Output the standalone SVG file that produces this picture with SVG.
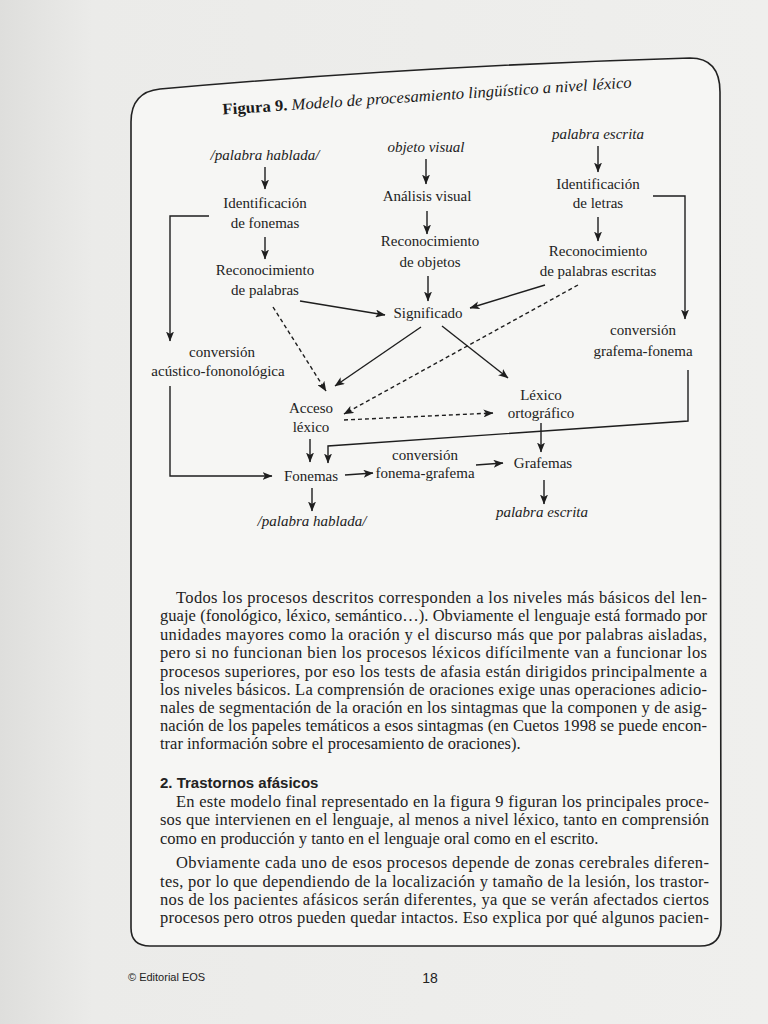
<svg xmlns="http://www.w3.org/2000/svg" width="768" height="1024" viewBox="0 0 768 1024">
<defs>
<marker id="ah" viewBox="0 0 10 8" refX="9.5" refY="4" markerWidth="10" markerHeight="8" markerUnits="userSpaceOnUse" orient="auto">
<path d="M0,0 L10,4 L0,8 L2.5,4 z" fill="#1e1e1e"/>
</marker>
<linearGradient id="bg" x1="0" y1="0" x2="1" y2="0">
<stop offset="0" stop-color="#dededc"/>
<stop offset="0.12" stop-color="#ebebe9"/>
<stop offset="1" stop-color="#efefed"/>
</linearGradient>
</defs>
<style>
.n{font-family:"Liberation Serif","Times New Roman",serif;font-size:15px;fill:#222;text-anchor:middle}
.i{font-style:italic}
.b{font-family:"Liberation Serif","Times New Roman",serif;font-size:16.5px;fill:#222}
.c{stroke:#1e1e1e;stroke-width:1.4;fill:none}
.a{marker-end:url(#ah)}
.d{stroke-dasharray:4 3}
</style>
<rect width="768" height="1024" fill="url(#bg)"/>
<g id="frame">
<path d="M131,122 Q131,92 160,89 Q420,66 690,58 Q720,58 720,92 L721,925 Q721,946 700,946 L150,946 Q131,946 131,928 Z" fill="#f6f6f4" stroke="#222" stroke-width="1.6"/>
</g>
<g id="title">
<text transform="rotate(-3.8 427 95)" x="222" y="101" textLength="410" lengthAdjust="spacingAndGlyphs" style="font-family:'Liberation Serif','Times New Roman',serif;font-size:16px;fill:#1a1a1a"><tspan font-weight="bold">Figura 9.</tspan><tspan font-style="italic"> Modelo de procesamiento lingüístico a nivel léxico</tspan></text>
</g>
<g id="connectors">
<line class="c a" x1="265" y1="167" x2="265" y2="189"/>
<line class="c a" x1="265" y1="237" x2="265" y2="259"/>
<line class="c a" x1="426" y1="159" x2="426" y2="184"/>
<line class="c a" x1="427" y1="211" x2="427" y2="234"/>
<line class="c a" x1="428" y1="276" x2="428" y2="301"/>
<line class="c a" x1="598" y1="146" x2="598" y2="172"/>
<line class="c a" x1="598" y1="217" x2="598" y2="241"/>
<polyline class="c a" points="209,216 170,216 170,341"/>
<polyline class="c a" points="170,386 170,476 272,476"/>
<polyline class="c a" points="653,196 685,196 685,319"/>
<polyline class="c a" points="688,370 688,421 328,446 328,463"/>
<line class="c a" x1="310" y1="439" x2="310" y2="462"/>
<line class="c a" x1="312" y1="488" x2="312" y2="511"/>
<line class="c a" x1="345" y1="475" x2="373" y2="473"/>
<line class="c a" x1="476" y1="465" x2="503" y2="463"/>
<line class="c a" x1="541" y1="423" x2="541" y2="452"/>
<line class="c a" x1="544" y1="480" x2="544" y2="504"/>
<line class="c a" x1="300" y1="301" x2="385" y2="315"/>
<line class="c a d" x1="273" y1="307" x2="326" y2="391"/>
<line class="c a" x1="421" y1="327" x2="335" y2="386"/>
<line class="c a" x1="442" y1="326" x2="508" y2="378"/>
<line class="c a" x1="545" y1="285" x2="470" y2="308"/>
<line class="c a d" x1="578" y1="285" x2="344" y2="414"/>
<line class="c a d" x1="344" y1="420" x2="493" y2="413"/>
</g>
<g id="palabra-hablada-in"><text class="n i" x="265" y="160">/palabra hablada/</text></g>
<g id="identificacion-fonemas"><text class="n" x="265" y="208">Identificación</text><text class="n" x="265" y="228">de fonemas</text></g>
<g id="reconocimiento-palabras"><text class="n" x="265" y="275">Reconocimiento</text><text class="n" x="265" y="295">de palabras</text></g>
<g id="objeto-visual"><text class="n i" x="426" y="152">objeto visual</text></g>
<g id="analisis-visual"><text class="n" x="427" y="201">Análisis visual</text></g>
<g id="reconocimiento-objetos"><text class="n" x="430" y="246">Reconocimiento</text><text class="n" x="430" y="267">de objetos</text></g>
<g id="significado"><text class="n" x="428" y="318">Significado</text></g>
<g id="palabra-escrita-in"><text class="n i" x="598" y="139">palabra escrita</text></g>
<g id="identificacion-letras"><text class="n" x="598" y="189">Identificación</text><text class="n" x="598" y="208">de letras</text></g>
<g id="reconocimiento-escritas"><text class="n" x="598" y="256">Reconocimiento</text><text class="n" x="598" y="276">de palabras escritas</text></g>
<g id="conversion-acustico"><text class="n" x="222" y="357">conversión</text><text class="n" x="218" y="376">acústico-fononológica</text></g>
<g id="conversion-grafema-fonema"><text class="n" x="643" y="335">conversión</text><text class="n" x="643" y="356">grafema-fonema</text></g>
<g id="acceso-lexico"><text class="n" x="311" y="413">Acceso</text><text class="n" x="311" y="432">léxico</text></g>
<g id="lexico-ortografico"><text class="n" x="541" y="400">Léxico</text><text class="n" x="541" y="418">ortográfico</text></g>
<g id="fonemas"><text class="n" x="311" y="481">Fonemas</text></g>
<g id="conversion-fonema-grafema"><text class="n" x="425" y="460">conversión</text><text class="n" x="425" y="478">fonema-grafema</text></g>
<g id="grafemas"><text class="n" x="543" y="468">Grafemas</text></g>
<g id="palabra-hablada-out"><text class="n i" x="312" y="526">/palabra hablada/</text></g>
<g id="palabra-escrita-out"><text class="n i" x="542" y="517">palabra escrita</text></g>
<g id="body">
<text class="b" x="176" y="603" textLength="531" lengthAdjust="spacing">Todos los procesos descritos corresponden a los niveles más básicos del len-</text>
<text class="b" x="160" y="621" textLength="547" lengthAdjust="spacing">guaje (fonológico, léxico, semántico…). Obviamente el lenguaje está formado por</text>
<text class="b" x="160" y="640" textLength="547" lengthAdjust="spacing">unidades mayores como la oración y el discurso más que por palabras aisladas,</text>
<text class="b" x="160" y="658" textLength="547" lengthAdjust="spacing">pero si no funcionan bien los procesos léxicos difícilmente van a funcionar los</text>
<text class="b" x="160" y="677" textLength="547" lengthAdjust="spacing">procesos superiores, por eso los tests de afasia están dirigidos principalmente a</text>
<text class="b" x="160" y="695" textLength="547" lengthAdjust="spacing">los niveles básicos. La comprensión de oraciones exige unas operaciones adicio-</text>
<text class="b" x="160" y="713" textLength="547" lengthAdjust="spacing">nales de segmentación de la oración en los sintagmas que la componen y de asig-</text>
<text class="b" x="160" y="731" textLength="547" lengthAdjust="spacing">nación de los papeles temáticos a esos sintagmas (en Cuetos 1998 se puede encon-</text>
<text class="b" x="160" y="749">trar información sobre el procesamiento de oraciones).</text>
<text x="160" y="788" style="font-family:'Liberation Sans',Arial,sans-serif;font-size:15px;font-weight:bold;fill:#222">2. Trastornos afásicos</text>
<text class="b" x="176" y="807" textLength="533" lengthAdjust="spacing">En este modelo final representado en la figura 9 figuran los principales proce-</text>
<text class="b" x="160" y="825" textLength="549" lengthAdjust="spacing">sos que intervienen en el lenguaje, al menos a nivel léxico, tanto en comprensión</text>
<text class="b" x="160" y="844">como en producción y tanto en el lenguaje oral como en el escrito.</text>
<text class="b" x="176" y="868" textLength="533" lengthAdjust="spacing">Obviamente cada uno de esos procesos depende de zonas cerebrales diferen-</text>
<text class="b" x="160" y="887" textLength="549" lengthAdjust="spacing">tes, por lo que dependiendo de la localización y tamaño de la lesión, los trastor-</text>
<text class="b" x="160" y="905" textLength="549" lengthAdjust="spacing">nos de los pacientes afásicos serán diferentes, ya que se verán afectados ciertos</text>
<text class="b" x="160" y="923" textLength="549" lengthAdjust="spacing">procesos pero otros pueden quedar intactos. Eso explica por qué algunos pacien-</text>
</g>
<g id="footer">
<text x="128" y="981" style="font-family:'Liberation Sans',Arial,sans-serif;font-size:11px;fill:#222">© Editorial EOS</text>
<text x="430" y="983" style="font-family:'Liberation Sans',Arial,sans-serif;font-size:14px;fill:#222;text-anchor:middle">18</text>
</g>
</svg>
